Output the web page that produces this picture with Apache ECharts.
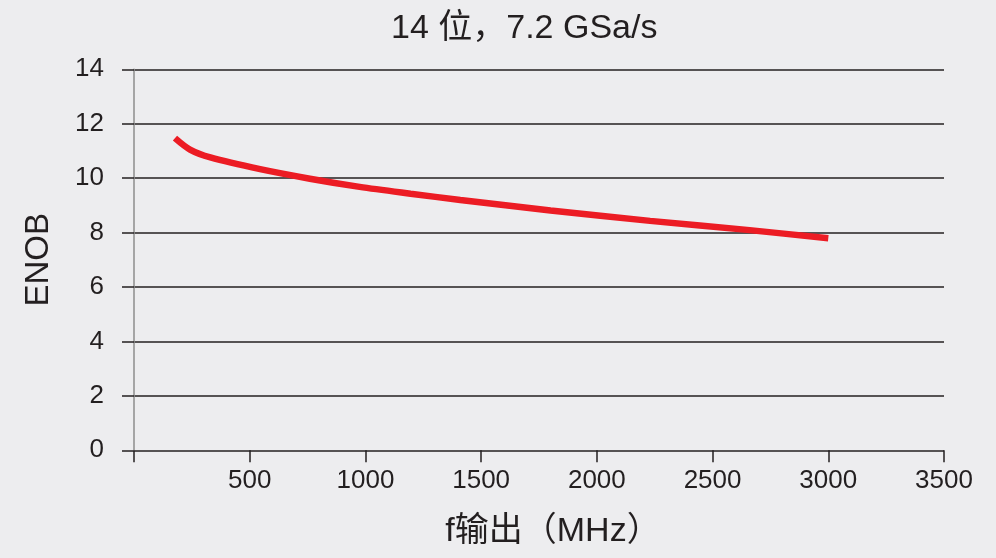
<!DOCTYPE html>
<html>
<head>
<meta charset="utf-8">
<script src="https://cdn.jsdelivr.net/npm/echarts@6/dist/echarts.min.js"></script>
<style>
html,body{margin:0;padding:0;background:#ededef;}
#c{width:996px;height:558px;}
</style>
</head>
<body>
<div id="c"></div>
<script>
const titleText = '14 位，7.2 GSa/s';
const xName = 'f输出（MHz）';
const yName = 'ENOB';
const xTicks = [0, 500, 1000, 1500, 2000, 2500, 3000, 3500];
const yTicks = [0, 2, 4, 6, 8, 10, 12, 14];
const freqMHz = [177, 242, 330, 545, 760, 975, 1195, 1410, 1800, 2230, 2660, 3000];
const enob = [11.47, 11.05, 10.76, 10.33, 9.98, 9.68, 9.43, 9.2, 8.81, 8.43, 8.09, 7.79];

const FONT = '"Liberation Sans", "Noto Sans CJK SC", sans-serif';
const chart = echarts.init(document.getElementById('c'));
chart.setOption({
  backgroundColor: '#ededef',
  animation: false,
  title: {
    text: titleText,
    left: 386,
    top: 7,
    textStyle: {fontFamily: FONT, fontSize: 34, fontWeight: 'normal', color: '#231f20'}
  },
  grid: {left: 134, right: 52, top: 69.3, bottom: 558 - 450.3, containLabel: false},
  xAxis: {
    type: 'value',
    min: xTicks[0], max: xTicks[xTicks.length - 1], interval: 500,
    name: xName, nameLocation: 'middle', nameGap: 64,
    nameTextStyle: {fontFamily: FONT, fontSize: 34, color: '#231f20', padding: [0, 0, 0, 28]},
    axisLine: {show: false},
    axisTick: {show: true, length: 12, lineStyle: {color: '#231f20', width: 1.5}},
    axisLabel: {
      margin: 18, fontFamily: FONT, fontSize: 26, color: '#231f20',
      formatter: v => (v === 0 ? '' : String(v))
    },
    splitLine: {show: false}
  },
  yAxis: {
    type: 'value',
    min: yTicks[0], max: yTicks[yTicks.length - 1], interval: 2,
    name: yName, nameLocation: 'middle', nameGap: 79, nameRotate: 90,
    nameTextStyle: {fontFamily: FONT, fontSize: 33, color: '#231f20'},
    axisLine: {show: true, lineStyle: {color: '#8c8c8c', width: 1.5}},
    axisTick: {show: true, length: 12, lineStyle: {color: '#231f20', width: 1.5}},
    axisLabel: {margin: 30, fontFamily: FONT, fontSize: 26, color: '#231f20'},
    splitLine: {show: true, lineStyle: {color: '#231f20', width: 1.5}}
  },
  series: [{
    type: 'line',
    data: freqMHz.map((f, i) => [f, enob[i]]),
    smooth: 0.3,
    showSymbol: false,
    symbol: 'none',
    lineStyle: {color: '#ec1c24', width: 6.5, cap: 'butt'},
    z: 5
  }]
});
</script>
</body>
</html>
